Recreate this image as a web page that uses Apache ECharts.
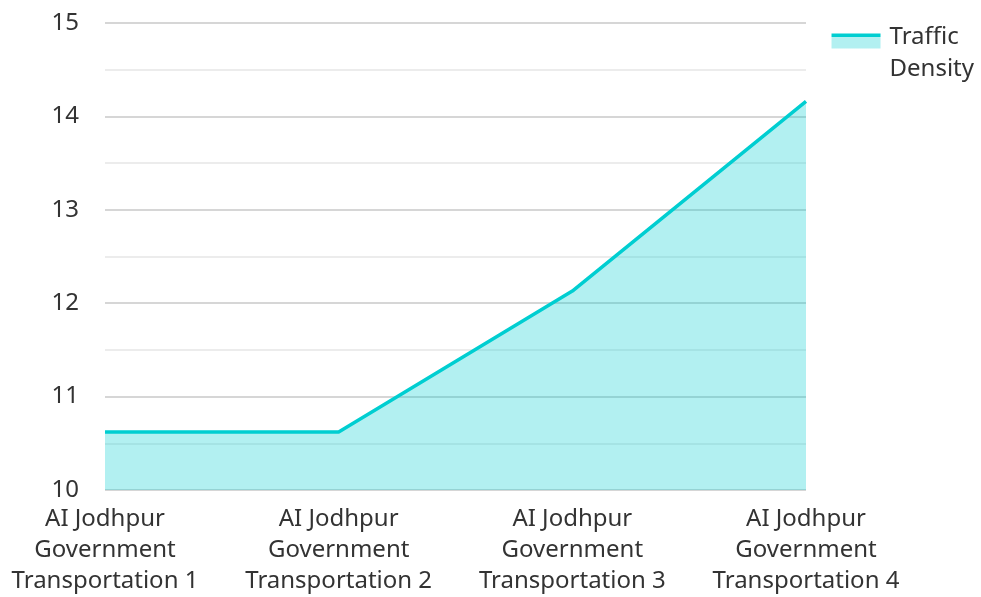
<!DOCTYPE html>
<html>
<head>
<meta charset="utf-8">
<script src="https://cdn.jsdelivr.net/npm/echarts@6/dist/echarts.min.js"></script>
<style>html,body{margin:0;padding:0;background:#fff;}#c{width:981px;height:597px;}</style>
</head>
<body>
<div id="c"></div>
<script>
const categories = [
  "AI Jodhpur\nGovernment\nTransportation 1",
  "AI Jodhpur\nGovernment\nTransportation 2",
  "AI Jodhpur\nGovernment\nTransportation 3",
  "AI Jodhpur\nGovernment\nTransportation 4"
];
const seriesName = "Traffic Density";
const trafficDensity = [10.62, 10.62, 12.13, 14.16];
const yMin = 10, yMax = 15, yStep = 0.5;

const teal = '#00CED1';
const chart = echarts.init(document.getElementById('c'));
chart.setOption({
  animation: false,
  textStyle: { fontFamily: 'Noto Sans' },
  grid: { left: 105, right: 175, top: 23, bottom: 107 },
  legend: {
    right: 2, top: -8,
    orient: 'vertical',
    itemWidth: 49, itemHeight: 15, itemGap: 10,
    icon: 'rect',
    data: [{
      name: seriesName,
      itemStyle: {
        color: new echarts.graphic.LinearGradient(0, 0, 0, 1, [
          {offset: 0, color: teal}, {offset: 0.25, color: teal},
          {offset: 0.25, color: '#b2f0f1'}, {offset: 1, color: '#b2f0f1'}
        ])
      },
      lineStyle: { width: 0, opacity: 0 }
    }],
    formatter: function (n) { return '{s| }\n' + n.replace(' ', '\n'); },
    textStyle: {
      fontSize: 24, color: '#333', lineHeight: 32, padding: [0, 0, 0, 4], fontFamily: 'Noto Sans',
      rich: { s: { lineHeight: 24, fontSize: 12 } }
    }
  },
  xAxis: {
    type: 'category',
    data: categories,
    boundaryGap: false,
    axisLine: { show: false },
    axisTick: { show: false },
    axisLabel: { fontSize: 24, color: '#333', lineHeight: 31, margin: 14, interval: 0, fontFamily: 'Noto Sans' }
  },
  yAxis: {
    type: 'value',
    min: yMin, max: yMax, interval: yStep,
    axisLine: { show: false },
    axisTick: { show: false },
    axisLabel: {
      fontSize: 24, color: '#333', margin: 26, fontFamily: 'Noto Sans',
      formatter: function (v) { return Number.isInteger(v) ? String(v) : ''; }
    },
    splitLine: { lineStyle: { color: ['#c8c8c8', '#e6e6e6'], width: 1.5 } }
  },
  series: [{
    name: seriesName,
    type: 'line',
    data: trafficDensity,
    symbol: 'none',
    lineStyle: { color: teal, width: 3.5 },
    itemStyle: { color: teal },
    areaStyle: { color: teal, opacity: 0.3 }
  }]
});
</script>
</body>
</html>
